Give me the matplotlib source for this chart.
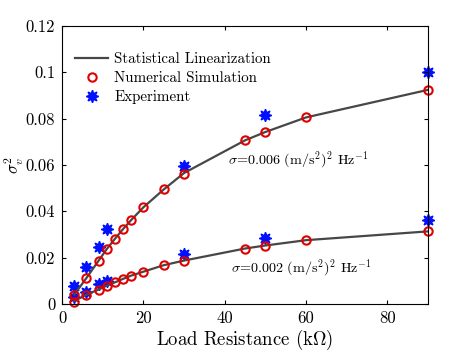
import matplotlib.pyplot as plt

plt.rcParams['font.family'] = 'serif'
plt.rcParams['font.serif'] = ['cmr10', 'DejaVu Serif']
plt.rcParams['mathtext.fontset'] = 'cm'
plt.rcParams['axes.unicode_minus'] = False

resistance = [3, 6, 9, 11, 13, 15, 17, 20, 25, 30, 45, 50, 60, 90]
sim_high = [0.0040, 0.0112, 0.0187, 0.0237, 0.0281, 0.0323, 0.0362, 0.0417,
            0.0494, 0.0560, 0.0706, 0.0742, 0.0805, 0.0924]
sim_low = [0.0009, 0.0040, 0.0062, 0.0079, 0.0093, 0.0108, 0.0122, 0.0139,
           0.0167, 0.0185, 0.0239, 0.0250, 0.0275, 0.0313]
lin_high = [0.0040, 0.0112, 0.0187, 0.0237, 0.0281, 0.0323, 0.0362, 0.0417,
            0.0494, 0.0565, 0.0706, 0.0742, 0.0805, 0.0924]
lin_low = [0.0012, 0.0040, 0.0062, 0.0079, 0.0093, 0.0108, 0.0122, 0.0139,
           0.0167, 0.0187, 0.0239, 0.0252, 0.0275, 0.0313]

exp_r = [3, 6, 9, 11, 30, 50, 90]
exp_high = [0.0079, 0.0161, 0.0247, 0.0322, 0.0595, 0.0816, 0.0999]
exp_low = [0.0029, 0.0050, 0.0085, 0.0100, 0.0216, 0.0285, 0.0361]

yticks = [0, 0.02, 0.04, 0.06, 0.08, 0.1, 0.12]
ytick_labels = ['0', '0.02', '0.04', '0.06', '0.08', '0.1', '0.12']

fig = plt.figure(figsize=(4.74, 3.55), dpi=100)
ax = fig.add_axes([0.131, 0.144, 0.772, 0.783])

ax.plot(resistance, lin_high, color='#474747', lw=1.6, label='Statistical Linearization')
ax.plot(resistance, lin_low, color='#474747', lw=1.6)
ax.plot(resistance, sim_high, 'o', mfc='none', mec='#e00000', mew=1.5, ms=6,
        label='Numerical Simulation', clip_on=False)
ax.plot(resistance, sim_low, 'o', mfc='none', mec='#e00000', mew=1.5, ms=6, clip_on=False)
ax.plot(exp_r, exp_high, marker=(8, 1, 0), ls='none', color='#0010ff', ms=9,
        label='Experiment', zorder=1, clip_on=False)
ax.plot(exp_r, exp_low, marker=(8, 1, 0), ls='none', color='#0010ff', ms=9, zorder=1,
        clip_on=False)

ax.text(40.8, 0.0622, r'$\sigma$=0.006 (m/s$^2$)$^2$ Hz$^{\mathrm{-1}}$', fontsize=10.2, va='center')
ax.text(41.6, 0.0155, r'$\sigma$=0.002 (m/s$^2$)$^2$ Hz$^{\mathrm{-1}}$', fontsize=10.2, va='center')

ax.set_xlim(0, 90)
ax.set_ylim(0, 0.12)
ax.set_xticks([0, 20, 40, 60, 80])
ax.set_yticks(yticks)
ax.set_yticklabels(ytick_labels)
ax.tick_params(direction='in', top=True, right=True, labelsize=12, length=3, pad=5)
ax.set_xlabel(r'Load Resistance (k$\Omega$)', fontsize=13.5, labelpad=1)
ax.set_ylabel(r'$\sigma_v^2$', fontsize=12, labelpad=0)
for s in ax.spines.values():
    s.set_linewidth(0.8)

ax.legend(loc='upper left', bbox_to_anchor=(0.02, 0.925), frameon=False, fontsize=10.8,
          handlelength=2.2, handletextpad=0.4, labelspacing=0.32, borderaxespad=0)

fig.savefig('out.png')
